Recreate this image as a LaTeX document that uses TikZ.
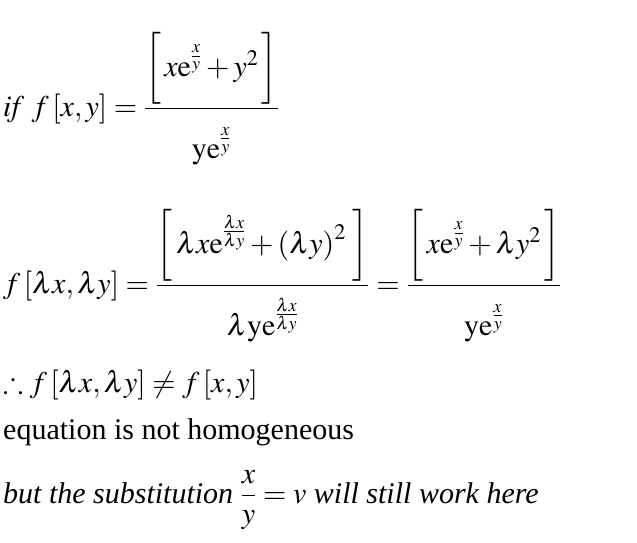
\documentclass[tikz,border=0pt]{standalone}
\usepackage{mathptmx}
\usepackage{amssymb}
\usepackage{fontspec}
\setmainfont{Liberation Serif}
\newcommand{\tallph}{\vphantom{\rule[-24pt]{0pt}{64pt}}}
\newcommand{\dph}{\rule{0pt}{46pt}}
\begin{document}
\begin{tikzpicture}[x=1pt,y=-1pt,txt/.style={anchor=west,inner sep=0pt,font=\fontsize{30}{36}\selectfont}]
\useasboundingbox (0,0) rectangle (637,543);
\node[txt] (l1) at (3,99) {$\displaystyle \mathit{if}\ f\left[x,y\right]=\frac{\left[\,x\mathrm{e}^{\frac{x}{y}}+y^{2}\tallph\,\right]}{\dph\mathrm{ye}^{\frac{x}{y}}}$};
\node[txt] (l2) at (3,276) {$\displaystyle f\left[\lambda x,\lambda y\right]=\frac{\left[\,\lambda x\mathrm{e}^{\frac{\lambda x}{\lambda y}}+\left(\lambda y\right)^{2}\tallph\,\right]}{\dph\lambda\mathrm{ye}^{\frac{\lambda x}{\lambda y}}}=\frac{\left[\,x\mathrm{e}^{\frac{x}{y}}+\lambda y^{2}\tallph\,\right]}{\dph\mathrm{ye}^{\frac{x}{y}}}$};
\node[txt] (l3) at (3,385) {$\therefore f\left[\lambda x,\lambda y\right]\neq f\left[x,y\right]$};
\node[txt] (l4) at (3,432) {equation is not homogeneous};
\node[txt] (l5) at (3,500) {\itshape but the substitution $\displaystyle\frac{x}{y}=v$ will still work here};
\end{tikzpicture}
\end{document}
